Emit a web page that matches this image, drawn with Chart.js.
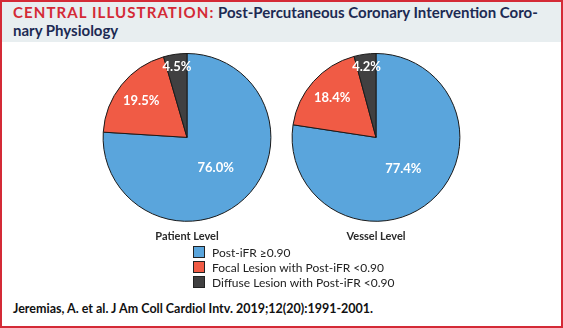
<!DOCTYPE html>
<html>
<head>
<meta charset="utf-8">
<script src="https://cdn.jsdelivr.net/npm/chart.js@4.4.1/dist/chart.umd.min.js"></script>
<style>
  html, body { margin: 0; padding: 0; background: #fff; }
  #frame {
    position: relative; width: 563px; height: 328px; box-sizing: border-box;
    border: 2px solid #d42a36; background: #fff; overflow: hidden;
    font-family: Lato, "Noto Sans", sans-serif;
  }
  #header {
    position: absolute; left: 0; top: 0; right: 0; height: 40px;
    background: #e8eef0; padding: 1px 0 0 11px; box-sizing: border-box;
    font-size: 15px; font-weight: bold; line-height: 18px; color: #1c2a53;
  }
  #header .tag { color: #d42a36; letter-spacing: 1.1px; }
  .pie { position: absolute; }
  #legend { position: absolute; left: 191px; top: 243px; font-size: 12px; color: #222; }
  #legend div { height: 15px; line-height: 15px; white-space: nowrap; }
  #legend span.box {
    display: inline-block; width: 10px; height: 10px; border: 1px solid #222;
    vertical-align: -1px; margin-right: 7px;
  }
  #cite {
    position: absolute; left: 11px; top: 299px; font-size: 12.5px; font-weight: bold; color: #111;
  }
</style>
</head>
<body>
<div id="frame">
  <div id="header"><span class="tag">CENTRAL ILLUSTRATION:</span> Post-Percutaneous Coronary Intervention Coro-<br>nary Physiology</div>
  <canvas id="pieA" class="pie" width="200" height="194" style="left:85px;top:51px;width:200px;height:194px"></canvas>
  <canvas id="pieB" class="pie" width="200" height="194" style="left:274px;top:51px;width:200px;height:194px"></canvas>
  <div id="legend"></div>
  <div id="cite">Jeremias, A. et al. J Am Coll Cardiol Intv. 2019;12(20):1991-2001.</div>
</div>
<script>
const categories = ["Post-iFR \u22650.90", "Focal Lesion with Post-iFR <0.90", "Diffuse Lesion with Post-iFR <0.90"];
const colors = ["#5aa5dc", "#f05b45", "#404041"];
const patientLevel = [76.0, 19.5, 4.5];
const vesselLevel = [77.4, 18.4, 4.2];
const panelTitles = ["Patient Level", "Vessel Level"];

// where each percentage sits, as a fraction of the radius
const labelRadius = [0.5, 0.7, 0.85];

const sliceLabels = {
  id: "sliceLabels",
  afterDatasetsDraw(chart) {
    const ctx = chart.ctx;
    const meta = chart.getDatasetMeta(0);
    const values = chart.data.datasets[0].data;
    ctx.save();
    ctx.font = "bold 13px Lato, 'Noto Sans', sans-serif";
    ctx.fillStyle = "#fff";
    ctx.textAlign = "center";
    ctx.textBaseline = "middle";
    meta.data.forEach((arc, i) => {
      const mid = (arc.startAngle + arc.endAngle) / 2;
      const r = arc.outerRadius * labelRadius[i];
      ctx.fillText(values[i].toFixed(1) + "%", arc.x + Math.cos(mid) * r, arc.y + Math.sin(mid) * r);
    });
    ctx.restore();
  }
};

function makePie(id, values, title) {
  return new Chart(document.getElementById(id), {
    type: "pie",
    data: {
      labels: categories,
      datasets: [{
        data: values,
        backgroundColor: colors,
        borderColor: "#1a1a1a",
        borderWidth: 1
      }]
    },
    options: {
      responsive: false,
      animation: false,
      layout: { padding: 0 },
      plugins: {
        legend: { display: false },
        tooltip: { enabled: false },
        title: {
          display: true,
          text: title,
          position: "bottom",
          color: "#2a2a2a",
          font: { family: "Lato, 'Noto Sans', sans-serif", size: 11, weight: "bold" },
          padding: { top: 8, bottom: 4 }
        }
      }
    },
    plugins: [sliceLabels]
  });
}

makePie("pieA", patientLevel, panelTitles[0]);
makePie("pieB", vesselLevel, panelTitles[1]);

const legend = document.getElementById("legend");
categories.forEach((c, i) => {
  const row = document.createElement("div");
  const box = document.createElement("span");
  box.className = "box";
  box.style.background = colors[i];
  row.appendChild(box);
  row.appendChild(document.createTextNode(c));
  legend.appendChild(row);
});
</script>
</body>
</html>
